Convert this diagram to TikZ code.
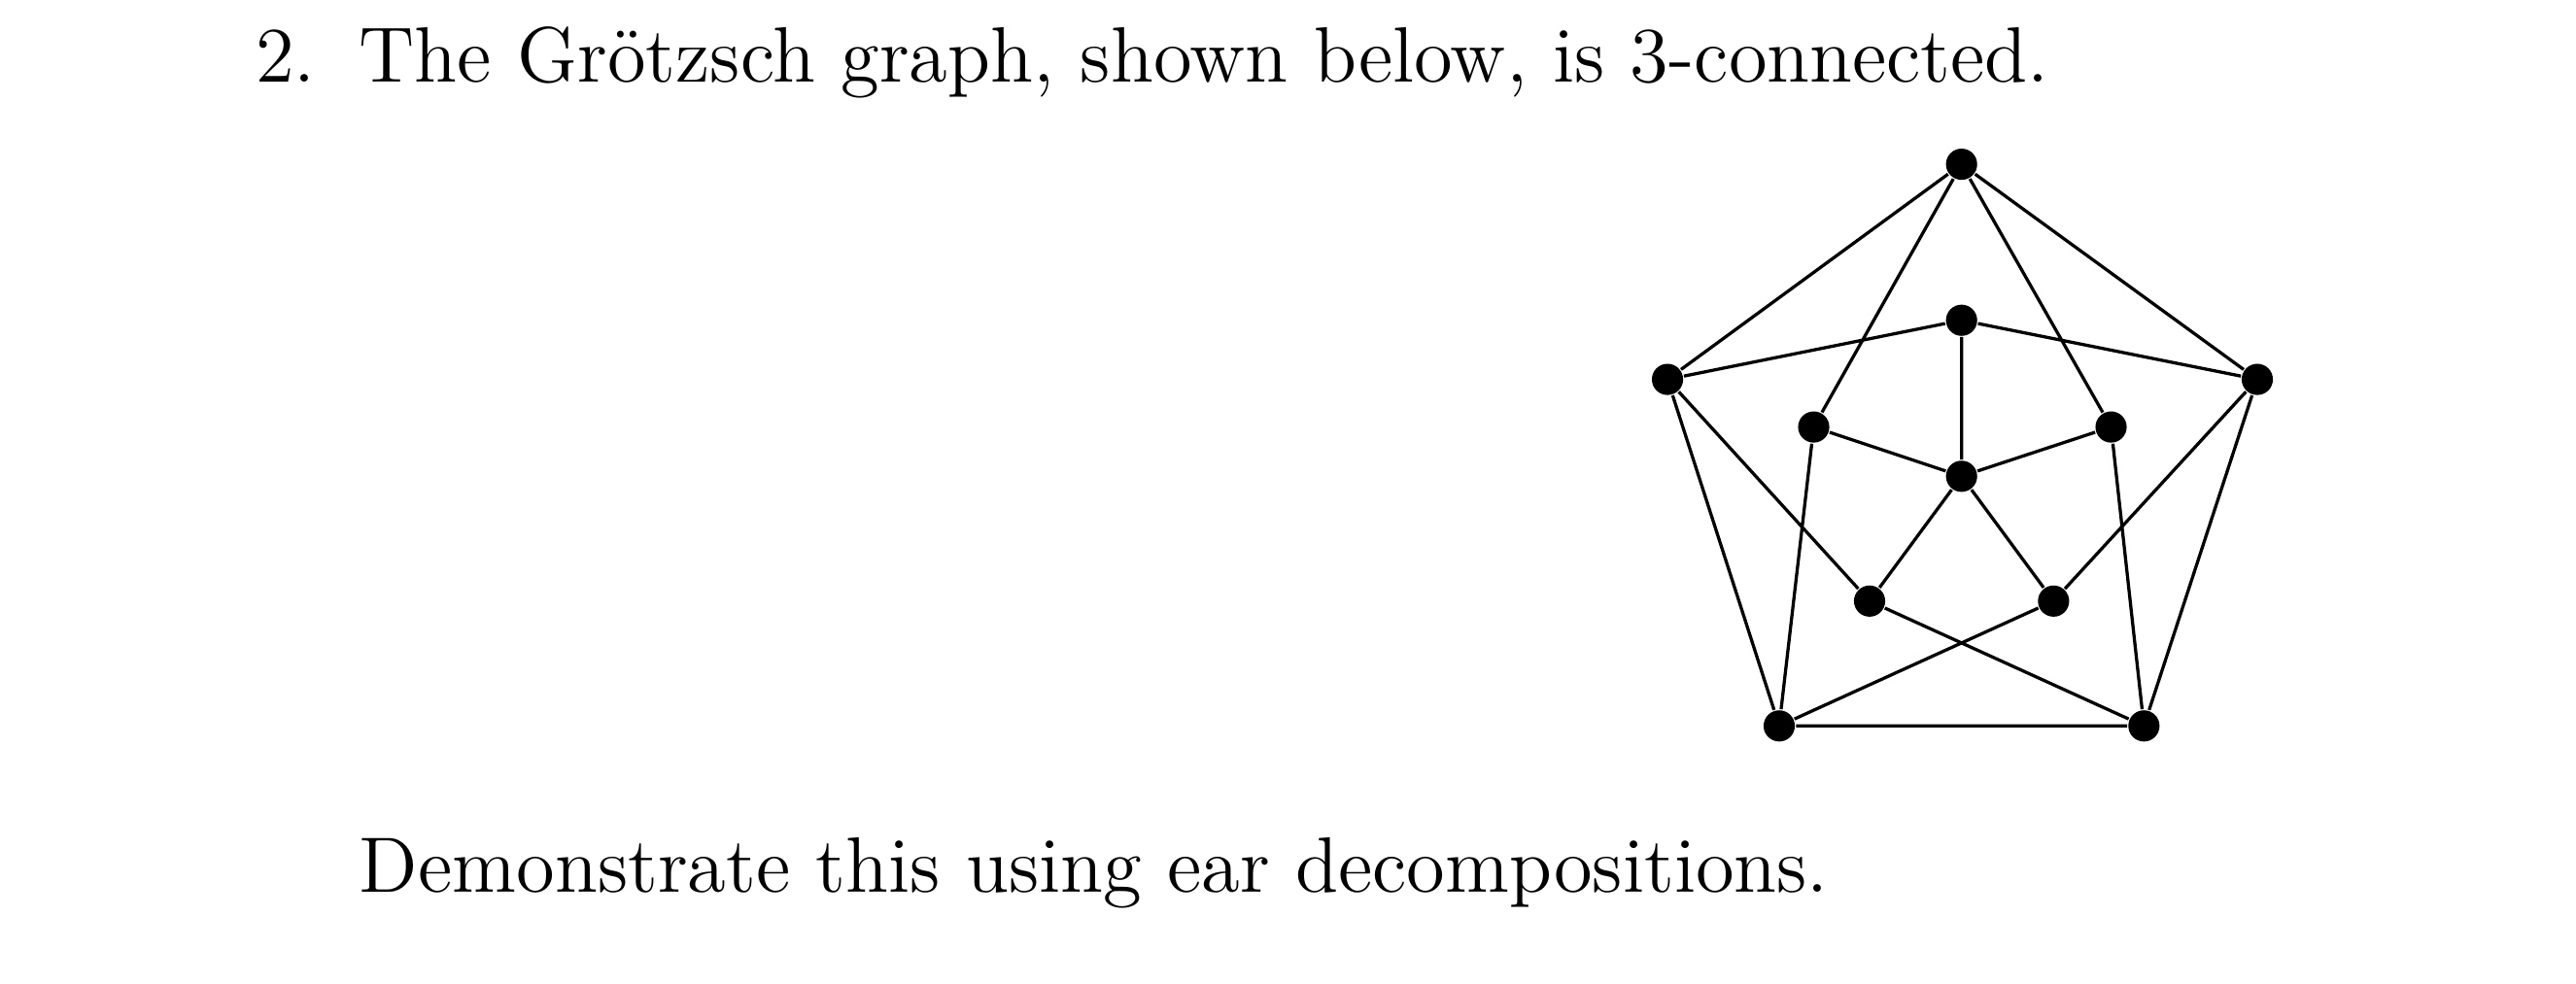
\documentclass[tikz,border=0pt]{standalone}
\begin{document}
\begin{tikzpicture}[x=0.01cm,y=-0.01cm,
  v/.style={circle,fill=black,inner sep=0pt,minimum size=0.19cm},
  txt/.style={anchor=base west,inner sep=0pt,font=\fontsize{13.6}{16}\selectfont},
  e/.style={line width=0.55pt}]
\useasboundingbox (0,0) rectangle (1568,599);
\node[txt] (num) at (155,50) {2.};
\node[txt] (t1) at (218,50) {The Grötzsch graph, shown below, is 3-connected.};
\node[txt] (t2) at (218,543) {Demonstrate this using ear decompositions.};
\node[v] (o1) at (1194,100) {};
\node[v] (o2) at (1015,231) {};
\node[v] (o3) at (1374,231) {};
\node[v] (o4) at (1083,442) {};
\node[v] (o5) at (1305,442) {};
\node[v] (m1) at (1194,195) {};
\node[v] (m2) at (1104,260) {};
\node[v] (m3) at (1285,260) {};
\node[v] (m4) at (1138,366) {};
\node[v] (m5) at (1250,366) {};
\node[v] (c) at (1194,290) {};
\draw[e] (o1)--(o2) (o1)--(o3) (o2)--(o4) (o3)--(o5) (o4)--(o5);
\draw[e] (o1)--(m2) (o1)--(m3) (o2)--(m1) (o2)--(m4) (o3)--(m1) (o3)--(m5)
  (o4)--(m2) (o4)--(m5) (o5)--(m3) (o5)--(m4);
\draw[e] (c)--(m1) (c)--(m2) (c)--(m3) (c)--(m4) (c)--(m5);
\end{tikzpicture}
\end{document}
